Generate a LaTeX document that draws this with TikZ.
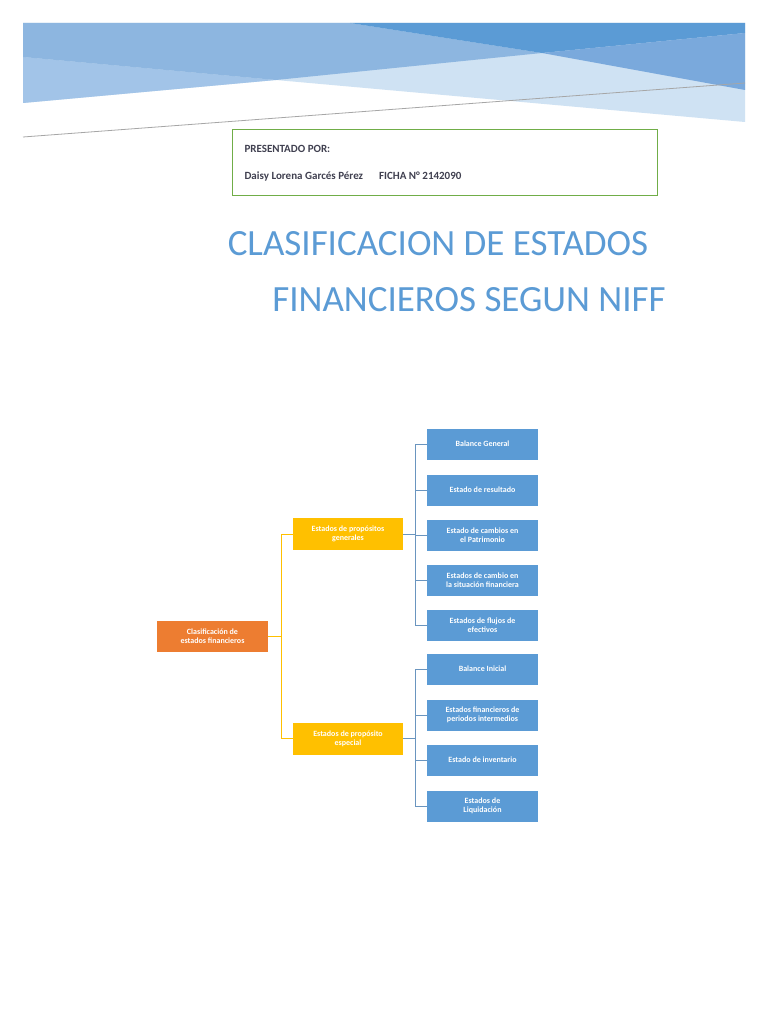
\documentclass[tikz,border=0pt]{standalone}
\usepackage{fontspec}
\setmainfont{Carlito}
\definecolor{dblue}{HTML}{5B9BD5}
\definecolor{mblue}{HTML}{8DB6E0}
\definecolor{mlblue}{HTML}{A2C4E8}
\definecolor{rblue}{HTML}{7AA9DC}
\definecolor{lblue}{HTML}{CFE2F3}
\definecolor{orng}{HTML}{ED7D31}
\definecolor{yel}{HTML}{FFC000}
\definecolor{grn}{HTML}{70AD47}
\definecolor{txt}{HTML}{404050}
\definecolor{bline}{HTML}{6A95BF}
\definecolor{yline}{HTML}{FFC000}
\begin{document}
\begin{tikzpicture}[x=1pt,y=-1pt,
  box/.style={minimum width=111pt,minimum height=31pt,inner sep=1pt,align=center,text=white,font=\fontsize{8}{9}\selectfont\bfseries},
  leaf/.style={box,fill=dblue},
  mid/.style={box,fill=yel,minimum width=110pt,minimum height=32pt},
  yconn/.style={yline,line width=1pt},
  bconn/.style={bline,line width=1pt}]
\useasboundingbox (0,0) rectangle (768,1024);
\fill[white] (0,0) rectangle (768,1024);
% banner
\fill[lblue] (23,23) -- (745,23) -- (745,122) -- (276,80) -- (23,103) -- cycle;
\fill[mlblue] (23,57) -- (276,80) -- (23,103) -- cycle;
\fill[mblue] (23,23) -- (350,23) -- (542,53) -- (276,80) -- (23,57) -- cycle;
\fill[dblue] (350,23) -- (745,23) -- (745,33) -- (542,53) -- cycle;
\fill[rblue] (542,53) -- (745,33) -- (745,90) -- cycle;
\draw[gray!70,line width=0.8pt] (23,137) -- (745,83);
% presenter box
\node[draw=grn,line width=0.8pt,minimum width=425pt,minimum height=66pt,anchor=north west] (pbox) at (232,129) {};
\node[anchor=west,text=txt,font=\fontsize{11}{13}\selectfont\bfseries] (p1) at (241,149) {PRESENTADO POR:};
\node[anchor=west,text=txt,font=\fontsize{11}{13}\selectfont\bfseries] (p2) at (241,177) {Daisy Lorena Garcés Pérez\hspace{16pt}FICHA N° 2142090};
% title
\node[text=dblue,font=\fontsize{37}{40}\selectfont] (t1) at (438,244) {CLASIFICACION DE ESTADOS};
\node[text=dblue,font=\fontsize{37}{40}\selectfont] (t2) at (469,300) {FINANCIEROS SEGUN NIFF};
% diagram
\node[box,fill=orng] (root) at (212.5,636.5) {Clasificación de\\estados financieros};
\node[mid] (gen) at (348,534) {Estados de propósitos\\generales};
\node[mid] (esp) at (348,738.5) {Estados de propósito\\especial};
\node[leaf] (b1) at (482.5,444) {Balance General};
\node[leaf] (b2) at (482.5,490) {Estado de resultado};
\node[leaf] (b3) at (482.5,535) {Estado de cambios en\\el Patrimonio};
\node[leaf] (b4) at (482.5,580) {Estados de cambio en\\la situación financiera};
\node[leaf] (b5) at (482.5,625) {Estados de flujos de\\efectivos};
\node[leaf] (c1) at (482.5,669) {Balance Inicial};
\node[leaf] (c2) at (482.5,715) {Estados financieros de\\periodos intermedios};
\node[leaf] (c3) at (482.5,760) {Estado de inventario};
\node[leaf] (c4) at (482.5,806) {Estados de\\Liquidación};
\foreach \n in {gen,esp} \draw[yconn] (root.east) -- ++(13,0) |- (\n.west);
\foreach \n in {b1,b2,b3,b4,b5} \draw[bconn] (gen.east) -- ++(12,0) |- (\n.west);
\foreach \n in {c1,c2,c3,c4} \draw[bconn] (esp.east) -- ++(12,0) |- (\n.west);
\end{tikzpicture}
\end{document}
